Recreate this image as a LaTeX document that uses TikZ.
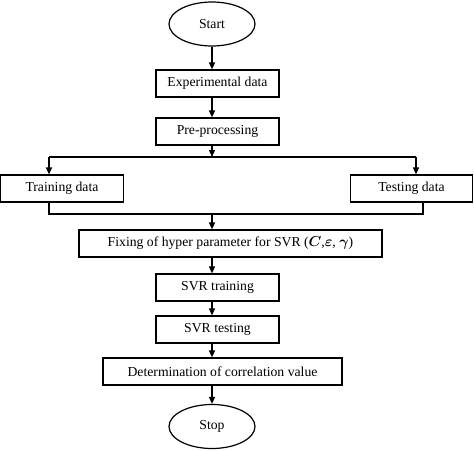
\documentclass[tikz,border=0pt]{standalone}
\usepackage{amsmath,bm}
\usepackage{fontspec}
\setmainfont{Liberation Serif}
\usetikzlibrary{arrows.meta,shapes.geometric}
\begin{document}
\begin{tikzpicture}[x=1pt,y=-1pt,line width=1.2pt,
  txt/.style={font=\fontsize{13.7}{16}\selectfont},
  box/.style={txt,draw,rectangle,inner sep=0pt,minimum height=27pt},
  term/.style={txt,draw,ellipse,inner sep=0pt,minimum width=86pt,minimum height=44pt},
  arr/.style={-{Triangle[length=7pt,width=6pt]}}]
\useasboundingbox (0,0) rectangle (474,450);
\node[term] (start) at (212,24) {Start};
\node[box,minimum width=123pt] (exp) at (217.5,83.5) {Experimental data};
\node[box,minimum width=123pt] (pre) at (217.5,131.5) {Pre-processing};
\node[box,minimum width=123pt] (train) at (62,188.5) {Training data};
\node[box,minimum width=122pt] (test) at (411.5,188.5) {Testing data};
\node[box,minimum width=303pt] (fix) at (230.5,243.5) {Fixing of hyper parameter for SVR ($\bm{C}$,$\bm{\varepsilon}$, $\bm{\gamma}$)};
\node[box,minimum width=123pt] (svrtr) at (217.5,287.5) {SVR training};
\node[box,minimum width=123pt] (svrte) at (217.5,329.5) {SVR testing};
\node[box,minimum width=239pt] (det) at (222.5,371.5) {Determination of correlation value};
\node[term] (stop) at (212,426.5) {Stop};
\coordinate (s) at (212,157);
\coordinate (sl) at (49,157);
\coordinate (sr) at (416,157);
\coordinate (m) at (212,214);
\coordinate (ml) at (49,214);
\coordinate (mr) at (423,214);
\draw[arr] (start.south) -- (start.south |- exp.north);
\draw[arr] (start.south |- exp.south) -- (start.south |- pre.north);
\draw[arr] (start.south |- pre.south) -- (s);
\draw (sl) -- (sr);
\draw[arr] (sl) -- (sl |- train.north);
\draw[arr] (sr) -- (sr |- test.north);
\draw (ml |- train.south) -- (ml) -- (mr) -- (mr |- test.south);
\draw[arr] (m) -- (m |- fix.north);
\draw[arr] (m |- fix.south) -- (m |- svrtr.north);
\draw[arr] (m |- svrtr.south) -- (m |- svrte.north);
\draw[arr] (m |- svrte.south) -- (m |- det.north);
\draw[arr] (m |- det.south) -- (stop.north);
\end{tikzpicture}
\end{document}
